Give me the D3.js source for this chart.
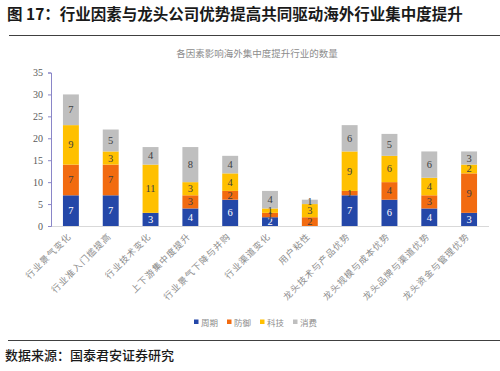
<!DOCTYPE html>
<html>
<head>
<meta charset="utf-8">
<script src="https://cdn.jsdelivr.net/npm/d3@7"></script>
<style>
  body { margin: 0; background: #fff; }
  svg { display: block; }
</style>
</head>
<body>
<script>
// categories (x axis)
const categories = ['行业景气变化', '行业准入门槛提高', '行业技术变化', '上下游集中度提升',
  '行业景气下降与并购', '行业渠道变化', '用户粘性', '龙头技术与产品优势',
  '龙头规模与成本优势', '龙头品牌与渠道优势', '龙头资金与管理优势']

// series values
const seriesNames = ['周期', '防御', '科技', '消费']
const cycle   = [7, 7, 3, 4, 6, 2, 0, 7, 6, 4, 3]
const defense = [7, 7, 0, 3, 2, 1, 2, 1, 4, 3, 9]
const tech    = [9, 3, 11, 3, 4, 1, 3, 9, 6, 4, 2]
const consume = [7, 5, 4, 8, 4, 4, 1, 6, 5, 6, 3]
const yTicks = [0, 5, 10, 15, 20, 25, 30, 35]

const colors = ['#2447a8', '#f26b10', '#ffc000', '#bfbfbf']

const w = 500
const h = 371
const baseY = 226
const topY = 72.5
const left = 51
const right = 489

const svg = d3.select('body').append('svg')
  .attr('width', w)
  .attr('height', h)

// title + rules
svg.append('text')
  .attr('x', 7).attr('y', 20)
  .attr('font-family', '"Noto Sans CJK SC", sans-serif')
  .attr('font-weight', 700)
  .attr('font-size', 15.5)
  .attr('fill', '#1a1a1a')
  .text('图 17：行业因素与龙头公司优势提高共同驱动海外行业集中度提升')

svg.append('line').attr('x1', 9).attr('x2', 500).attr('y1', 35.5).attr('y2', 35.5)
  .attr('stroke', '#404040').attr('stroke-width', 1)

svg.append('text')
  .attr('x', 257).attr('y', 57)
  .attr('text-anchor', 'middle')
  .attr('font-family', '"Noto Sans CJK SC", sans-serif')
  .attr('font-size', 9.5)
  .attr('fill', '#8c8c8c')
  .text('各因素影响海外集中度提升行业的数量')

// build stacked data
const rows = categories.map((c, i) => ({
  cat: c, '周期': cycle[i], '防御': defense[i], '科技': tech[i], '消费': consume[i]
}))
const stacked = d3.stack().keys(seriesNames)(rows)

const xScale = d3.scaleBand()
  .domain(categories)
  .range([left, right])
  .paddingInner(0.6)
  .paddingOuter(0.3)

const yScale = d3.scaleLinear()
  .domain([0, 35])
  .range([baseY, topY])

// baseline
svg.append('line')
  .attr('x1', left).attr('x2', right)
  .attr('y1', baseY + 0.5).attr('y2', baseY + 0.5)
  .attr('stroke', '#d9d9d9')

// bars
const groups = svg.selectAll('g.series')
  .data(stacked)
  .enter()
  .append('g')
  .attr('class', 'series')
  .attr('fill', (d, i) => colors[i])

groups.selectAll('rect')
  .data(d => d)
  .enter()
  .append('rect')
  .attr('x', d => xScale(d.data.cat))
  .attr('y', d => yScale(d[1]))
  .attr('width', xScale.bandwidth())
  .attr('height', d => yScale(d[0]) - yScale(d[1]))

// value labels
stacked.forEach((s, si) => {
  svg.append('g').selectAll('text')
    .data(s.filter(d => d[1] - d[0] > 0))
    .enter()
    .append('text')
    .attr('x', d => xScale(d.data.cat) + xScale.bandwidth() / 2)
    .attr('y', d => yScale((d[0] + d[1]) / 2) + 3.5)
    .attr('text-anchor', 'middle')
    .attr('font-family', '"Liberation Serif", serif')
    .attr('font-size', 10.5)
    .attr('fill', si === 0 ? '#ffffff' : '#404040')
    .text(d => d[1] - d[0])
})

// y axis
const yAxis = d3.axisLeft(yScale)
  .tickValues(yTicks)
  .tickSize(3)
  .tickPadding(5)

const yG = svg.append('g')
  .attr('transform', `translate(${left},0)`)
  .call(yAxis)
yG.select('.domain').attr('stroke', '#8a86c8')
yG.selectAll('.tick line').attr('stroke', '#8a86c8')
yG.selectAll('.tick text')
  .attr('font-family', '"Liberation Serif", serif')
  .attr('font-size', 10)
  .attr('fill', '#595959')

// x labels, rotated
svg.append('g').selectAll('text')
  .data(categories)
  .enter()
  .append('text')
  .attr('transform', d => `translate(${xScale(d) + xScale.bandwidth() / 2 + 1},${baseY + 11}) rotate(-45)`)
  .attr('text-anchor', 'end')
  .attr('font-family', '"Noto Sans CJK SC", sans-serif')
  .attr('font-size', 9)
  .attr('letter-spacing', 1)
  .attr('fill', '#8c8c8c')
  .text(d => d)

// legend
const legendX = [194, 227, 260, 293]
const legend = svg.append('g').selectAll('g')
  .data(seriesNames)
  .enter()
  .append('g')
  .attr('transform', (d, i) => `translate(${legendX[i]},323)`)
legend.append('rect')
  .attr('x', 0).attr('y', -3.5)
  .attr('width', 4.5).attr('height', 4.5)
  .attr('fill', (d, i) => colors[i])
legend.append('text')
  .attr('x', 7).attr('y', 3)
  .attr('font-family', '"Noto Sans CJK SC", sans-serif')
  .attr('font-size', 8.5)
  .attr('fill', '#8c8c8c')
  .text(d => d)

svg.append('line').attr('x1', 8).attr('x2', 500).attr('y1', 340.5).attr('y2', 340.5)
  .attr('stroke', '#404040').attr('stroke-width', 1)

svg.append('text')
  .attr('x', 5).attr('y', 360)
  .attr('font-family', '"Noto Sans CJK SC", sans-serif')
  .attr('font-weight', 500)
  .attr('font-size', 13)
  .attr('fill', '#1a1a1a')
  .text('数据来源：国泰君安证券研究')
</script>
</body>
</html>
